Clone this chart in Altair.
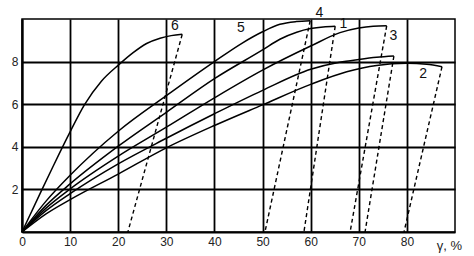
import altair as alt
import pandas as pd

# ---- curve data (x = γ, %, y = value) ----
c6_x = [0, 3.7, 6.5, 10, 13, 16.5, 20.2, 23.1, 25.9, 28.7, 31, 33.3]
c6_y = [0, 1.78, 3.1, 4.7, 5.98, 7.08, 7.87, 8.42, 8.85, 9.1, 9.22, 9.28]

c5_x = [0, 5, 10, 20, 30, 40, 45.7, 50, 53.6, 57, 59.9]
c5_y = [0, 1.45, 2.66, 4.73, 6.4, 8.0, 8.86, 9.4, 9.75, 9.88, 9.92]

c1_x = [0, 5, 10, 20, 30, 40, 50, 53.6, 57.1, 60, 62.6, 65.1]
c1_y = [0, 1.25, 2.26, 4.03, 5.62, 7.2, 8.55, 9.05, 9.38, 9.55, 9.63, 9.66]

c3_x = [0, 5, 10, 20, 30, 40, 50, 60, 66.1, 70, 73, 75.8]
c3_y = [0, 1.12, 2.02, 3.56, 4.92, 6.3, 7.6, 8.73, 9.36, 9.58, 9.66, 9.68]

c4_x = [0, 5, 10, 20, 30, 40, 50, 60, 66, 70, 73.7, 77.3]
c4_y = [0, 1.0, 1.80, 3.2, 4.4, 5.55, 6.65, 7.64, 7.97, 8.1, 8.2, 8.26]

c2_x = [0, 5, 10, 20, 30, 40, 50, 60, 67.5, 73.7, 80, 84.1, 87.3]
c2_y = [0, 0.85, 1.52, 2.72, 3.95, 5.0, 5.97, 6.93, 7.52, 7.82, 7.92, 7.87, 7.76]

# ---- dashed unloading lines: top point -> x at y = 0 ----
dash_x_top = [33.3, 59.9, 65.1, 75.8, 77.3, 87.3]
dash_y_top = [9.28, 9.92, 9.66, 9.68, 8.26, 7.76]
dash_x_bot = [22.0, 50.5, 58.6, 68.2, 71.3, 79.4]

# ---- curve number labels ----
lab_text = ["6", "5", "4", "1", "3", "2"]
lab_x = [31.8, 45.5, 61.8, 66.8, 77.2, 83.4]
lab_y = [9.68, 9.6, 10.3, 9.75, 9.2, 7.4]

x_ticks = [0, 10, 20, 30, 40, 50, 60, 70, 80]
y_ticks = [2, 4, 6, 8]

curves = [("6", c6_x, c6_y), ("5", c5_x, c5_y), ("1", c1_x, c1_y),
          ("3", c3_x, c3_y), ("4", c4_x, c4_y), ("2", c2_x, c2_y)]
rows = []
for name, xs, ys in curves:
    for i, (xv, yv) in enumerate(zip(xs, ys)):
        rows.append({"curve": name, "x": xv, "y": yv, "i": i})
df_curves = pd.DataFrame(rows)

df_dash = pd.DataFrame({"x": dash_x_top, "y": dash_y_top,
                        "x2": dash_x_bot, "y2": [0] * len(dash_x_bot)})
df_lab = pd.DataFrame({"t": lab_text, "x": lab_x, "y": lab_y})

xscale = alt.Scale(domain=[0, 90], nice=False, zero=False)
yscale = alt.Scale(domain=[0, 10], nice=False, zero=False)

xaxis = alt.Axis(values=x_ticks, grid=True, title="γ, %", titleX=427, titleY=13,
                 titleBaseline="middle", titleAlign="center",
                 titleFontWeight="normal", titleFontSize=13, labelFlush=False)
yaxis = alt.Axis(values=y_ticks, grid=True, title=None)

lines = alt.Chart(df_curves).mark_line(
    color="black", strokeWidth=1.5, interpolate="monotone"
).encode(
    x=alt.X("x:Q", scale=xscale, axis=xaxis),
    y=alt.Y("y:Q", scale=yscale, axis=yaxis),
    detail="curve:N",
    order="i:Q",
)

dashes = alt.Chart(df_dash).mark_rule(
    color="black", strokeWidth=1.4, strokeDash=[4, 3]
).encode(
    x=alt.X("x:Q", scale=xscale),
    y=alt.Y("y:Q", scale=yscale),
    x2="x2:Q",
    y2="y2:Q",
)

labels = alt.Chart(df_lab).mark_text(
    fontSize=14, font="Liberation Sans", color="#111",
    align="center", baseline="middle"
).encode(
    x=alt.X("x:Q", scale=xscale),
    y=alt.Y("y:Q", scale=yscale),
    text="t:N",
)

chart = alt.layer(dashes, lines, labels).properties(
    width=433, height=213,
    autosize=alt.AutoSizeParams(type="none"),
    padding={"left": 22, "top": 19, "right": 19, "bottom": 24},
).configure_view(
    stroke="black", strokeWidth=1.5
).configure_axis(
    gridColor="black", gridWidth=1.8, gridOpacity=1,
    domainColor="black", domainWidth=2,
    ticks=False,
    labelFont="Liberation Sans", labelFontSize=12, labelColor="#222",
    labelPadding=4,
    titleFont="Liberation Sans", titleColor="#222",
)

chart.save("out.html", embed_options={"renderer": "svg", "actions": False})
